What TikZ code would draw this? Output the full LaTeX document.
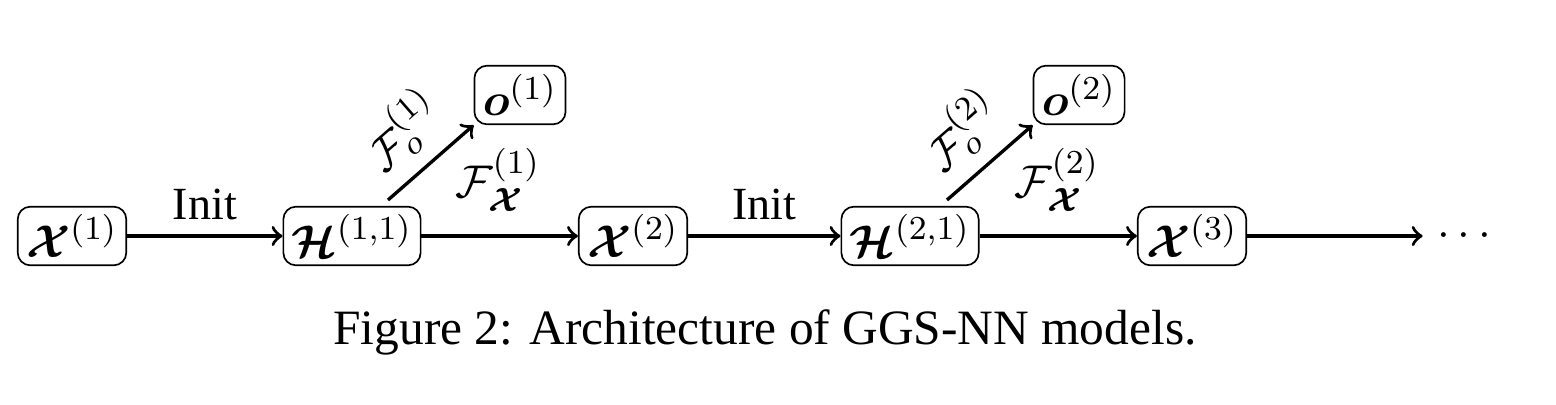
\documentclass[tikz,border=0pt]{standalone}
\usepackage{amsmath,bm}
\usepackage{fontspec}
\setmainfont{Liberation Serif}
\begin{document}
\begin{tikzpicture}[x=0.00839cm,y=-0.00839cm,
  box/.style={draw,rounded corners=3pt,minimum height=14pt,inner xsep=2pt,inner ysep=1pt,font=\fontsize{11}{13}\selectfont},
  arr/.style={->,thick},
  lab/.style={font=\fontsize{11}{13}\selectfont}]
\useasboundingbox (0,0) rectangle (1556,404);
\node[box] (x1) at (72,236) {$\bm{\mathcal{X}}^{(1)}$};
\node[box] (h1) at (352,236) {$\bm{\mathcal{H}}^{(1,1)}$};
\node[box] (o1) at (520,95) {$\bm{o}^{(1)}$};
\node[box] (x2) at (633,236) {$\bm{\mathcal{X}}^{(2)}$};
\node[box] (h2) at (910,236) {$\bm{\mathcal{H}}^{(2,1)}$};
\node[box] (o2) at (1079,95) {$\bm{o}^{(2)}$};
\node[box] (x3) at (1192,236) {$\bm{\mathcal{X}}^{(3)}$};
\node[lab] (dots) at (1468,236) {$\cdots$};
\draw[arr] (x1) -- node[lab,above] {Init} (h1);
\draw[arr] (h1) -- (x2);
\draw[arr] (x2) -- node[lab,above] {Init} (h2);
\draw[arr] (h2) -- (x3);
\node[lab] (fx1) at (498,180) {$\mathcal{F}_{\bm{\mathcal{X}}}^{(1)}$};
\node[lab] (fx2) at (1057,180) {$\mathcal{F}_{\bm{\mathcal{X}}}^{(2)}$};
\draw[arr] (x3) -- (dots);
\coordinate (s1) at (388,200);
\coordinate (s2) at (947,200);
\draw[arr] (s1) -- node[lab,sloped,above] {$\mathcal{F}_{o}^{(1)}$} (o1.south west);
\draw[arr] (s2) -- node[lab,sloped,above] {$\mathcal{F}_{o}^{(2)}$} (o2.south west);
\node[font=\fontsize{11.8}{14}\selectfont] (cap) at (765,332) {Figure 2: Architecture of GGS-NN models.};
\end{tikzpicture}
\end{document}
